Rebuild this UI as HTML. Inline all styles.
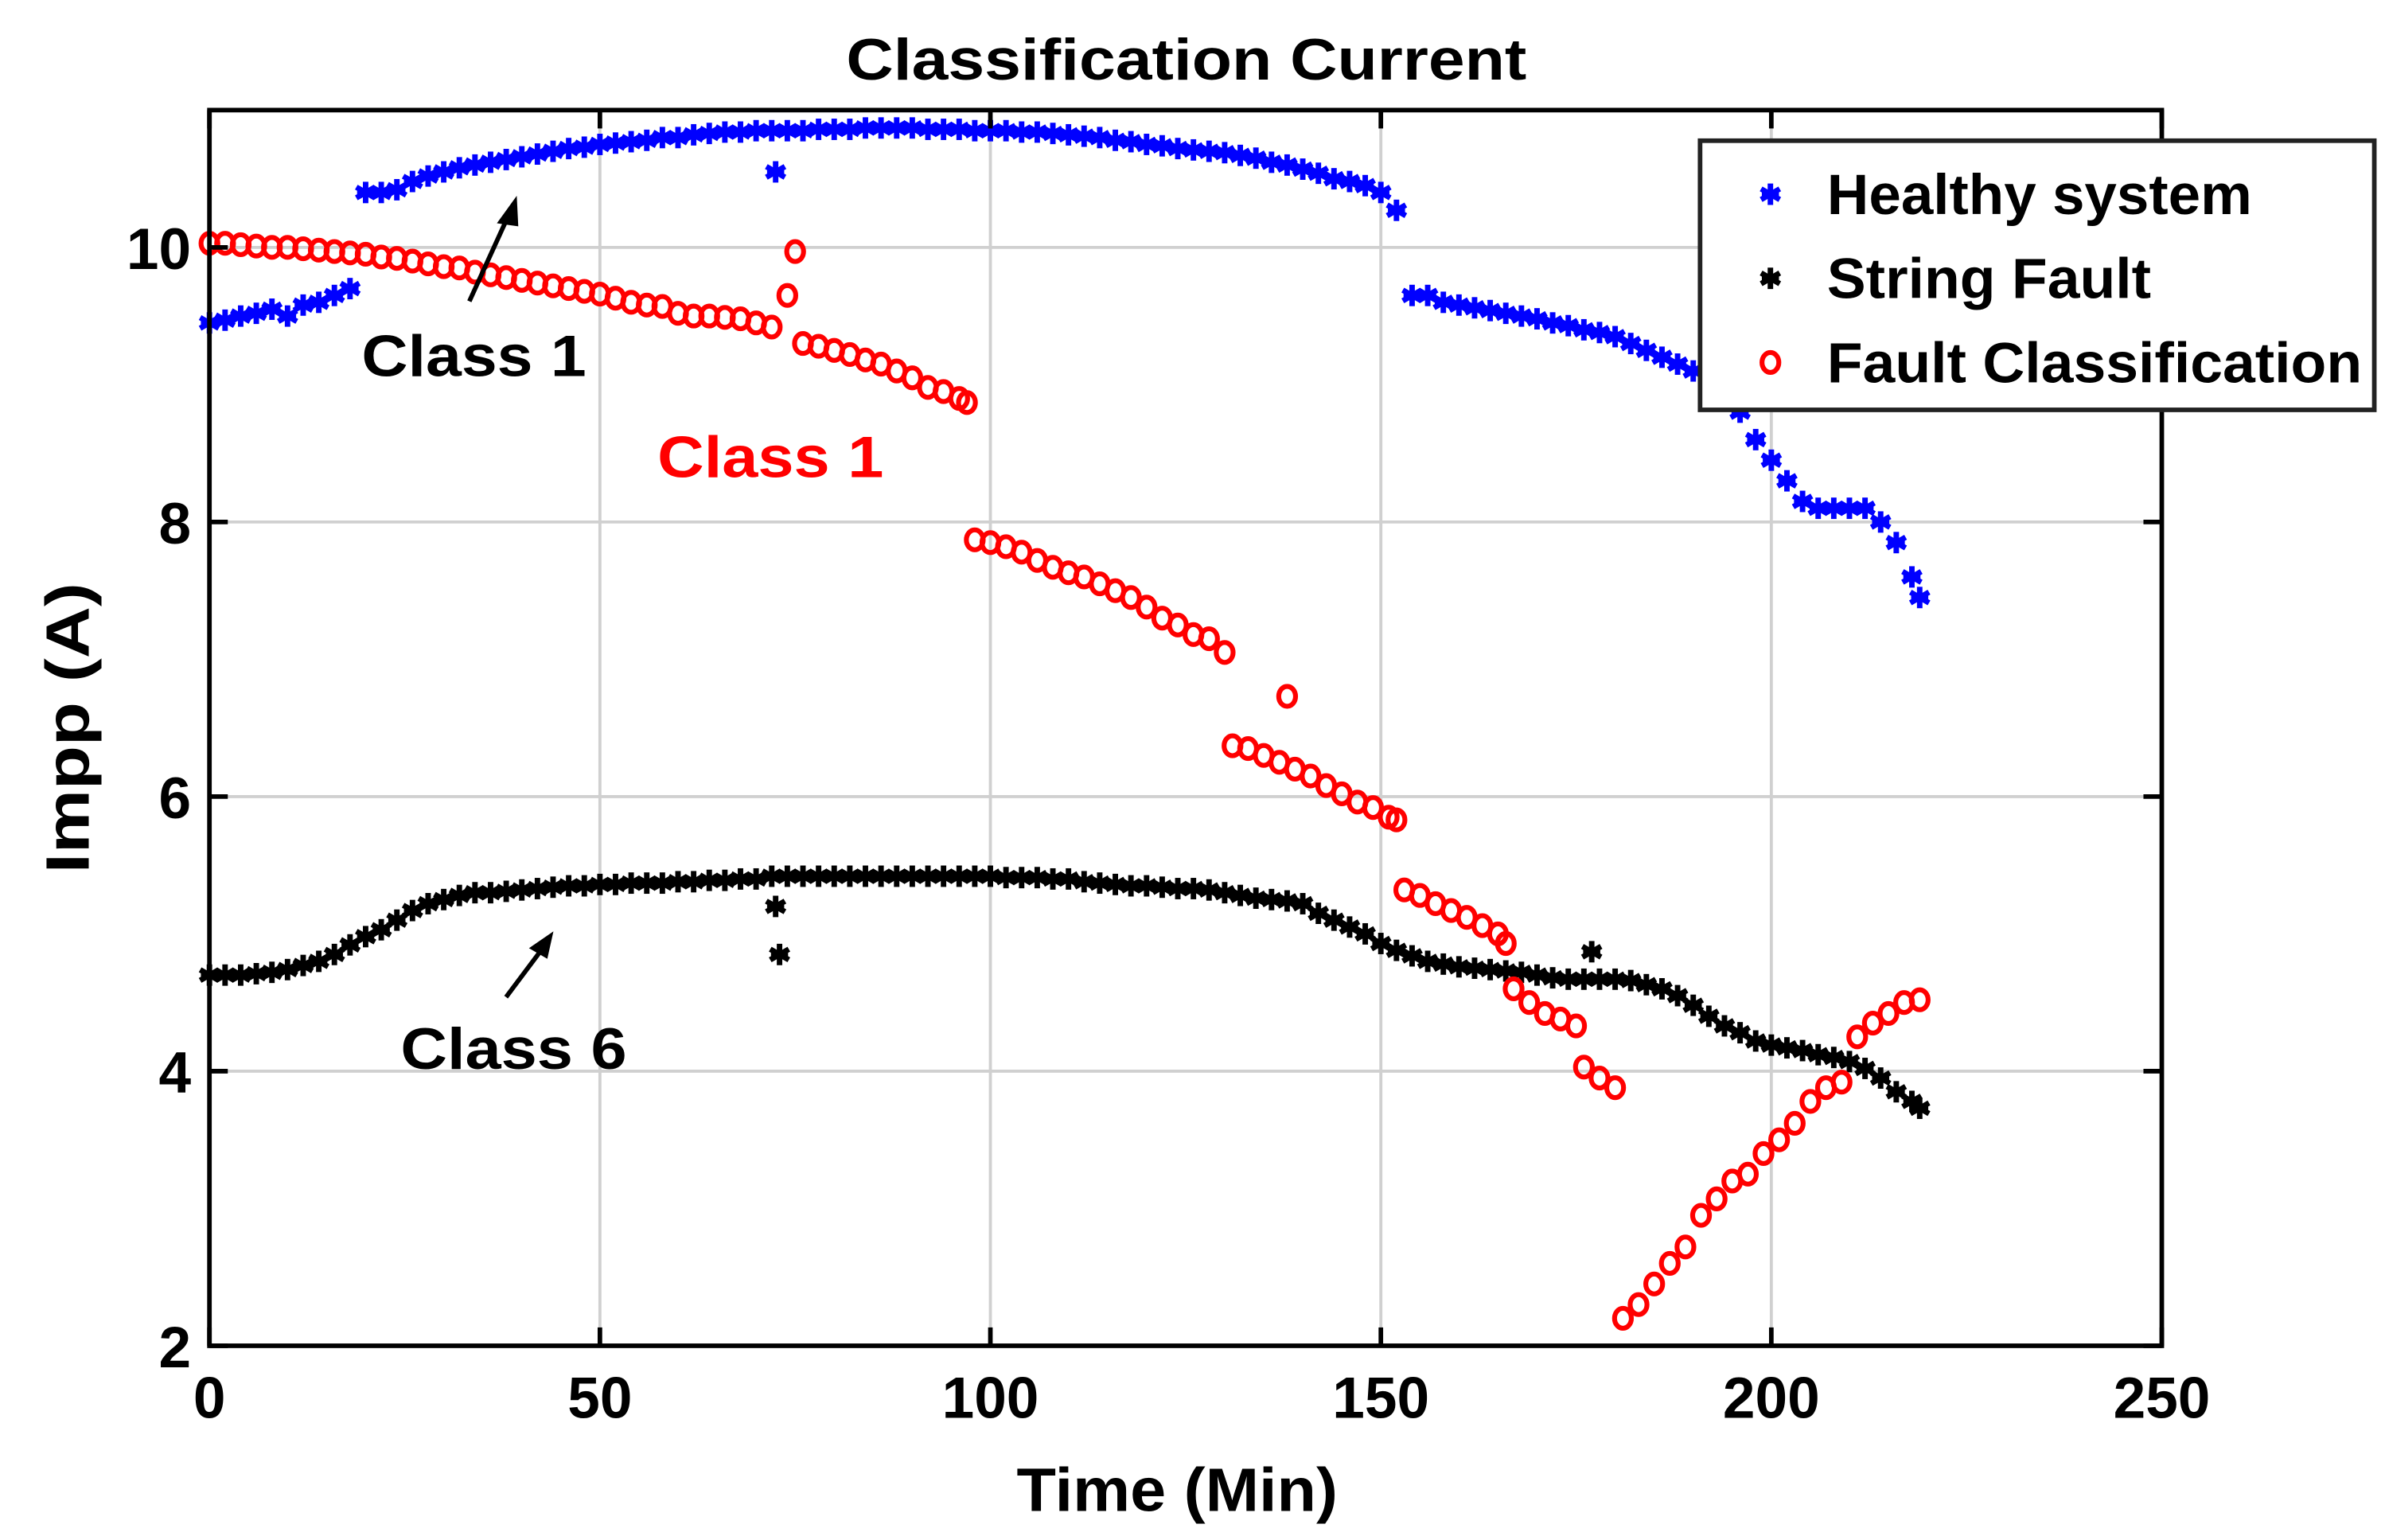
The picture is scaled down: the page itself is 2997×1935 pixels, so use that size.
<!DOCTYPE html>
<html><head><meta charset="utf-8"><style>
html,body{margin:0;padding:0;background:#fff;}
svg{display:block;}
text{font-family:"Liberation Sans",Arial,sans-serif;font-weight:bold;}
</style></head><body>
<svg id="chart" width="2997" height="1935" viewBox="0 0 1560 1007" preserveAspectRatio="none" xmlns="http://www.w3.org/2000/svg">
<rect x="0" y="0" width="1560" height="1007" fill="#fff"/>
<g id="grid"></g>
<g id="marks"></g>
<rect x="137" y="72" width="1277" height="808" fill="none" stroke="#000" stroke-width="3"/>
<g id="ticks"></g>
<text x="776" y="52" font-size="38" text-anchor="middle" textLength="445" lengthAdjust="spacingAndGlyphs">Classification Current</text>
<text x="770" y="988" font-size="40" text-anchor="middle" textLength="210" lengthAdjust="spacingAndGlyphs">Time (Min)</text>
<text x="58" y="476" font-size="40" text-anchor="middle" transform="rotate(-90 58 476)" textLength="190" lengthAdjust="spacingAndGlyphs">Impp (A)</text>
<g>
<text x="310" y="246" font-size="38" text-anchor="middle" fill="#000" textLength="147" lengthAdjust="spacingAndGlyphs">Class 1</text>
<line x1="307" y1="197" x2="333" y2="140" stroke="#000" stroke-width="3"/>
<polygon points="338,128 325,146 339,148" fill="#000"/>
</g>
<text x="504" y="312" font-size="38" text-anchor="middle" fill="#ff0000" textLength="148" lengthAdjust="spacingAndGlyphs">Class 1</text>
<g>
<text x="336" y="699" font-size="38" text-anchor="middle" fill="#000" textLength="148" lengthAdjust="spacingAndGlyphs">Class 6</text>
<line x1="331" y1="652" x2="355" y2="620" stroke="#000" stroke-width="3"/>
<polygon points="362,609 346,620 358,627" fill="#000"/>
</g>
<g>
<rect x="1112" y="92" width="441" height="176" fill="#fff" stroke="#222" stroke-width="3"/>
<g id="legmarks"></g>
<text x="1195" y="140" font-size="37" textLength="278" lengthAdjust="spacingAndGlyphs">Healthy system</text>
<text x="1195" y="195" font-size="37" textLength="212" lengthAdjust="spacingAndGlyphs">String Fault</text>
<text x="1195" y="250" font-size="37" textLength="350" lengthAdjust="spacingAndGlyphs">Fault Classification</text>
</g>
</svg>
<script>
const xTicks=[0,50,100,150,200,250];
const yTicks=[2,4,6,8,10];
const healthyT=[0,2,4,6,8,10,12,14,16,18,20,22,24,26,28,30,32,34,36,38,40,42,44,46,48,50,52,54,56,58,60,62,64,66,68,70,72,72.5,74,76,78,80,82,84,86,88,90,92,94,96,98,100,102,104,106,108,110,112,114,116,118,120,122,124,126,128,130,132,134,136,138,140,142,144,146,148,150,152,154,156,158,160,162,164,166,168,170,172,174,176,178,180,182,184,186,188,190,192,194,196,198,200,202,204,206,208,210,212,214,216,218,219];
const healthyV=[9.45,9.47,9.5,9.52,9.55,9.5,9.58,9.6,9.65,9.7,10.4,10.4,10.42,10.48,10.52,10.55,10.58,10.6,10.62,10.64,10.66,10.68,10.7,10.72,10.73,10.75,10.76,10.77,10.78,10.8,10.8,10.82,10.83,10.84,10.84,10.85,10.85,10.55,10.85,10.85,10.86,10.86,10.86,10.87,10.87,10.87,10.87,10.86,10.86,10.86,10.85,10.85,10.85,10.84,10.84,10.83,10.82,10.81,10.8,10.78,10.77,10.75,10.74,10.72,10.71,10.7,10.69,10.67,10.65,10.62,10.6,10.57,10.54,10.5,10.48,10.45,10.4,10.27,9.65,9.65,9.6,9.58,9.56,9.54,9.52,9.5,9.48,9.45,9.43,9.4,9.38,9.35,9.3,9.25,9.2,9.15,9.1,9.05,8.95,8.8,8.6,8.45,8.3,8.15,8.1,8.1,8.1,8.1,8.0,7.85,7.6,7.45];
const stringT=[0,2,4,6,8,10,12,14,16,18,20,22,24,26,28,30,32,34,36,38,40,42,44,46,48,50,52,54,56,58,60,62,64,66,68,70,72,72.5,73,74,76,78,80,82,84,86,88,90,92,94,96,98,100,102,104,106,108,110,112,114,116,118,120,122,124,126,128,130,132,134,136,138,140,142,144,146,148,150,152,154,156,158,160,162,164,166,168,170,172,174,176,177,178,180,182,184,186,188,190,192,194,196,198,200,202,204,206,208,210,212,214,216,218,219];
const stringV=[4.7,4.7,4.7,4.71,4.72,4.74,4.77,4.8,4.85,4.92,4.98,5.03,5.1,5.17,5.22,5.25,5.28,5.3,5.3,5.31,5.32,5.33,5.34,5.35,5.35,5.36,5.36,5.37,5.37,5.37,5.38,5.38,5.39,5.39,5.4,5.4,5.42,5.2,4.85,5.42,5.42,5.42,5.42,5.42,5.42,5.42,5.42,5.42,5.42,5.42,5.42,5.42,5.42,5.41,5.41,5.41,5.4,5.4,5.38,5.37,5.36,5.35,5.35,5.34,5.33,5.33,5.32,5.3,5.28,5.26,5.25,5.24,5.22,5.15,5.1,5.05,5.0,4.93,4.88,4.84,4.8,4.78,4.76,4.75,4.74,4.73,4.72,4.7,4.68,4.67,4.67,4.87,4.67,4.67,4.66,4.63,4.6,4.55,4.48,4.4,4.33,4.28,4.22,4.19,4.17,4.15,4.12,4.1,4.07,4.02,3.95,3.85,3.78,3.73];
const faultT=[0,2,4,6,8,10,12,14,16,18,20,22,24,26,28,30,32,34,36,38,40,42,44,46,48,50,52,54,56,58,60,62,64,66,68,70,72,74,75,76,78,80,82,84,86,88,90,92,94,96,97,98,100,102,104,106,108,110,112,114,116,118,120,122,124,126,128,130,138,131,133,135,137,139,141,143,145,147,149,151,152,153,155,157,159,161,163,165,166,167,169,171,173,175,176,178,180,181,183,185,187,189,191,193,195,197,199,201,203,205,207,209,211,213,215,217,219];
const faultV=[10.03,10.03,10.02,10.01,10.0,10.0,9.99,9.98,9.97,9.96,9.95,9.93,9.92,9.9,9.88,9.86,9.85,9.82,9.8,9.78,9.76,9.74,9.72,9.7,9.68,9.66,9.63,9.6,9.58,9.57,9.52,9.5,9.5,9.49,9.48,9.45,9.42,9.65,9.97,9.3,9.28,9.25,9.22,9.18,9.15,9.1,9.05,8.98,8.95,8.9,8.87,7.87,7.85,7.82,7.78,7.72,7.67,7.63,7.6,7.55,7.5,7.45,7.38,7.3,7.25,7.18,7.15,7.05,6.73,6.37,6.35,6.3,6.25,6.2,6.15,6.08,6.02,5.96,5.92,5.85,5.83,5.32,5.28,5.22,5.17,5.12,5.06,5.0,4.93,4.6,4.5,4.42,4.38,4.33,4.03,3.95,3.88,2.2,2.3,2.45,2.6,2.72,2.95,3.07,3.2,3.25,3.4,3.5,3.62,3.78,3.88,3.92,4.25,4.35,4.42,4.5,4.52];

const NS='http://www.w3.org/2000/svg';
const X0=137,X1=1414,Y0=880,Y1=72;
function sx(v){return X0+(v-0)/(250-0)*(X1-X0);}
function sy(v){return Y0-(v-2)/(11-2)*(Y0-Y1);}
function mk(tag,attrs,parent){const e=document.createElementNS(NS,tag);for(const k in attrs)e.setAttribute(k,attrs[k]);parent.appendChild(e);return e;}
const grid=document.getElementById('grid'),ticks=document.getElementById('ticks'),marks=document.getElementById('marks');
xTicks.forEach(v=>{
  const x=sx(v);
  if(v>0&&v<250){const g=mk('line',{x1:x,y1:Y1,x2:x,y2:Y0,stroke:'#d0d0d0','stroke-width':2},grid);
  
  }
  mk('line',{x1:x,y1:Y0,x2:x,y2:Y0-12,stroke:'#000','stroke-width':3},ticks);
  mk('line',{x1:x,y1:Y1,x2:x,y2:Y1+12,stroke:'#000','stroke-width':3},ticks);
  const t=mk('text',{x:x,y:Y0+47,'font-size':38,'text-anchor':'middle'},ticks);t.textContent=v;
  
  
});
yTicks.forEach(v=>{
  const y=sy(v);
  if(v>2){const g=mk('line',{x1:X0,y1:y,x2:X1,y2:y,stroke:'#d0d0d0','stroke-width':2},grid);
  
  }
  mk('line',{x1:X0,y1:y,x2:X0+12,y2:y,stroke:'#000','stroke-width':3},ticks);
  mk('line',{x1:X1,y1:y,x2:X1-12,y2:y,stroke:'#000','stroke-width':3},ticks);
  const t=mk('text',{x:X0-12,y:y+14,'font-size':38,'text-anchor':'end'},ticks);t.textContent=v;
  
  
});
function star(x,y,c,parent,name){
  const g=mk('g',{stroke:c,'stroke-width':3.6},parent);
  
  
  const r=7;
  mk('line',{x1:x,y1:y-r,x2:x,y2:y+r},g);
  mk('line',{x1:x-r*0.87,y1:y-r*0.5,x2:x+r*0.87,y2:y+r*0.5},g);
  mk('line',{x1:x-r*0.87,y1:y+r*0.5,x2:x+r*0.87,y2:y-r*0.5},g);
  mk('line',{x1:x-r*0.8,y1:y,x2:x+r*0.8,y2:y},g);
}
function circ(x,y,parent,name){
  const c=mk('ellipse',{cx:x,cy:y,rx:5.5,ry:6.5,fill:'none',stroke:'#ff0000','stroke-width':3.2},parent);
  
  
}
healthyT.forEach((t,i)=>star(sx(t),sy(healthyV[i]),'#0000ff',marks,'healthy-point'));
stringT.forEach((t,i)=>star(sx(t),sy(stringV[i]),'#000',marks,'string-fault-point'));
faultT.forEach((t,i)=>circ(sx(t),sy(faultV[i]),marks,'fault-classification-point'));
const lm=document.getElementById('legmarks');
star(1158,127,'#0000ff',lm,'legend-healthy-marker');
star(1158,182,'#000',lm,'legend-string-fault-marker');
circ(1158,237,lm,'legend-fault-marker');
</script>
</body></html>
